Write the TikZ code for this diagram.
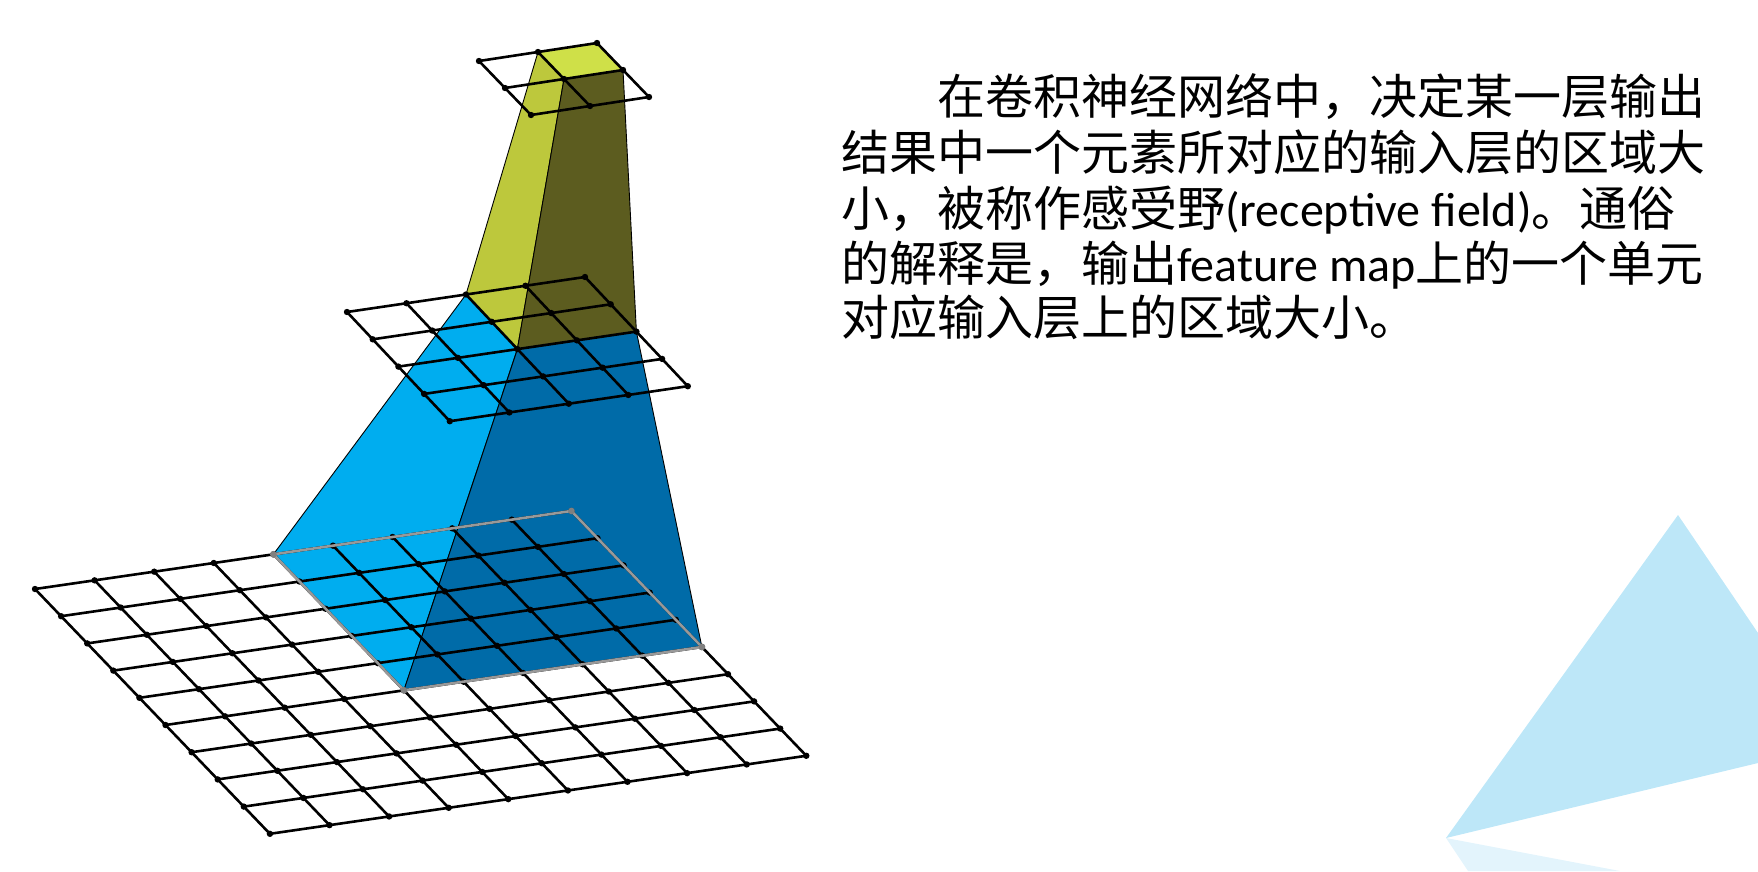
\documentclass[tikz,border=0pt]{standalone}
\usepackage{fontspec}
\newfontfamily\cjk{Noto Sans CJK SC}
\newfontfamily\lat{Carlito}
\definecolor{lblue}{HTML}{00ADEF}
\definecolor{dblue}{HTML}{006BA8}
\definecolor{lyel}{HTML}{BDC83C}
\definecolor{dyel}{HTML}{5C5C1F}
\definecolor{tyel}{HTML}{CFE048}
\definecolor{tri}{HTML}{BDE7F8}
\definecolor{trilt}{HTML}{E3F4FC}
\tikzset{
  gridln/.style={black,line width=2.6pt},
  face/.style={draw=black,line width=0.9pt},
  dot/.style={fill=black},
  txt/.style={anchor=base west,inner sep=0pt,font=\cjk\fontsize{48}{55}\selectfont}
}
\begin{document}
\begin{tikzpicture}[x=1pt,y=-1pt]
\useasboundingbox (0,0) rectangle (1758,871);
% triangle
\fill[tri] (1678,515) -- (1758,633) -- (1758,763) -- (1446,838) -- cycle;
\fill[trilt] (1446,838) -- (1620,871) -- (1468,871) -- cycle;
% lattice coordinates
\begin{scope}[shift={(35pt,-589pt)},x={(59.6pt,8.67pt)},y={(26.1pt,-27.2pt)}]
  \foreach \i in {0,...,9}{\foreach \j in {0,...,9}{\coordinate (B-\i-\j) at (\i,\j);}}
\end{scope}
\begin{scope}[shift={(347pt,-312pt)},x={(59.5pt,8.75pt)},y={(25.7pt,-27.3pt)}]
  \foreach \i in {0,...,4}{\foreach \j in {0,...,4}{\coordinate (M-\i-\j) at (\i,\j);}}
\end{scope}
\begin{scope}[shift={(479pt,-61pt)},x={(59pt,9pt)},y={(26pt,-27pt)}]
  \foreach \i in {0,...,2}{\foreach \j in {0,...,2}{\coordinate (T-\i-\j) at (\i,\j);}}
\end{scope}
% blue prism
\filldraw[face,fill=lblue] (M-2-0) -- (M-2-2) -- (B-4-5) -- (B-4-0) -- cycle;
\filldraw[face,fill=dblue] (M-2-2) -- (M-4-2) -- (B-9-5) -- (B-4-5) -- cycle;
% yellow prism
\filldraw[face,fill=lyel] (T-1-0) -- (T-1-1) -- (M-2-2) -- (M-2-0) -- cycle;
\filldraw[face,fill=dyel] (T-1-1) -- (T-2-1) -- (M-4-2) -- (M-2-2) -- cycle;
\filldraw[face,fill=tyel] (T-1-0) -- (T-2-0) -- (T-2-1) -- (T-1-1) -- cycle;
% bottom grid
\foreach \k in {0,...,9}{
  \draw[gridln] (B-\k-0) -- (B-\k-9);
  \draw[gridln] (B-0-\k) -- (B-9-\k);
}
\foreach \i in {0,...,9}{\foreach \j in {0,...,9}{\fill[dot] (B-\i-\j) circle[radius=3.2pt];}}
\draw[gray!80,line width=2.6pt,line join=round] (B-4-0) -- (B-9-0) -- (B-9-5) -- (B-4-5) -- cycle;
\foreach \p in {B-4-0,B-9-0,B-9-5,B-4-5}{\fill[gray] (\p) circle[radius=3.4pt];}
% middle grid
\foreach \k in {0,...,4}{
  \draw[gridln] (M-\k-0) -- (M-\k-4);
  \draw[gridln] (M-0-\k) -- (M-4-\k);
}
\foreach \i in {0,...,4}{\foreach \j in {0,...,4}{\fill[dot] (M-\i-\j) circle[radius=3.2pt];}}
% top grid
\foreach \k in {0,...,2}{
  \draw[gridln] (T-\k-0) -- (T-\k-2);
  \draw[gridln] (T-0-\k) -- (T-2-\k);
}
\foreach \i in {0,...,2}{\foreach \j in {0,...,2}{\fill[dot] (T-\i-\j) circle[radius=3.2pt];}}
% text
\node[txt] (l1) at (937,114) {在卷积神经网络中，决定某一层输出};
\node[txt] (l2) at (841,170) {结果中一个元素所对应的输入层的区域大};
\node[txt] (l3) at (841,226) {小，被称作感受野{\lat (receptive field)}。通俗};
\node[txt] (l4) at (841,281) {的解释是，输出{\lat feature map}上的一个单元};
\node[txt] (l5) at (841,335) {对应输入层上的区域大小。};
\end{tikzpicture}
\end{document}
